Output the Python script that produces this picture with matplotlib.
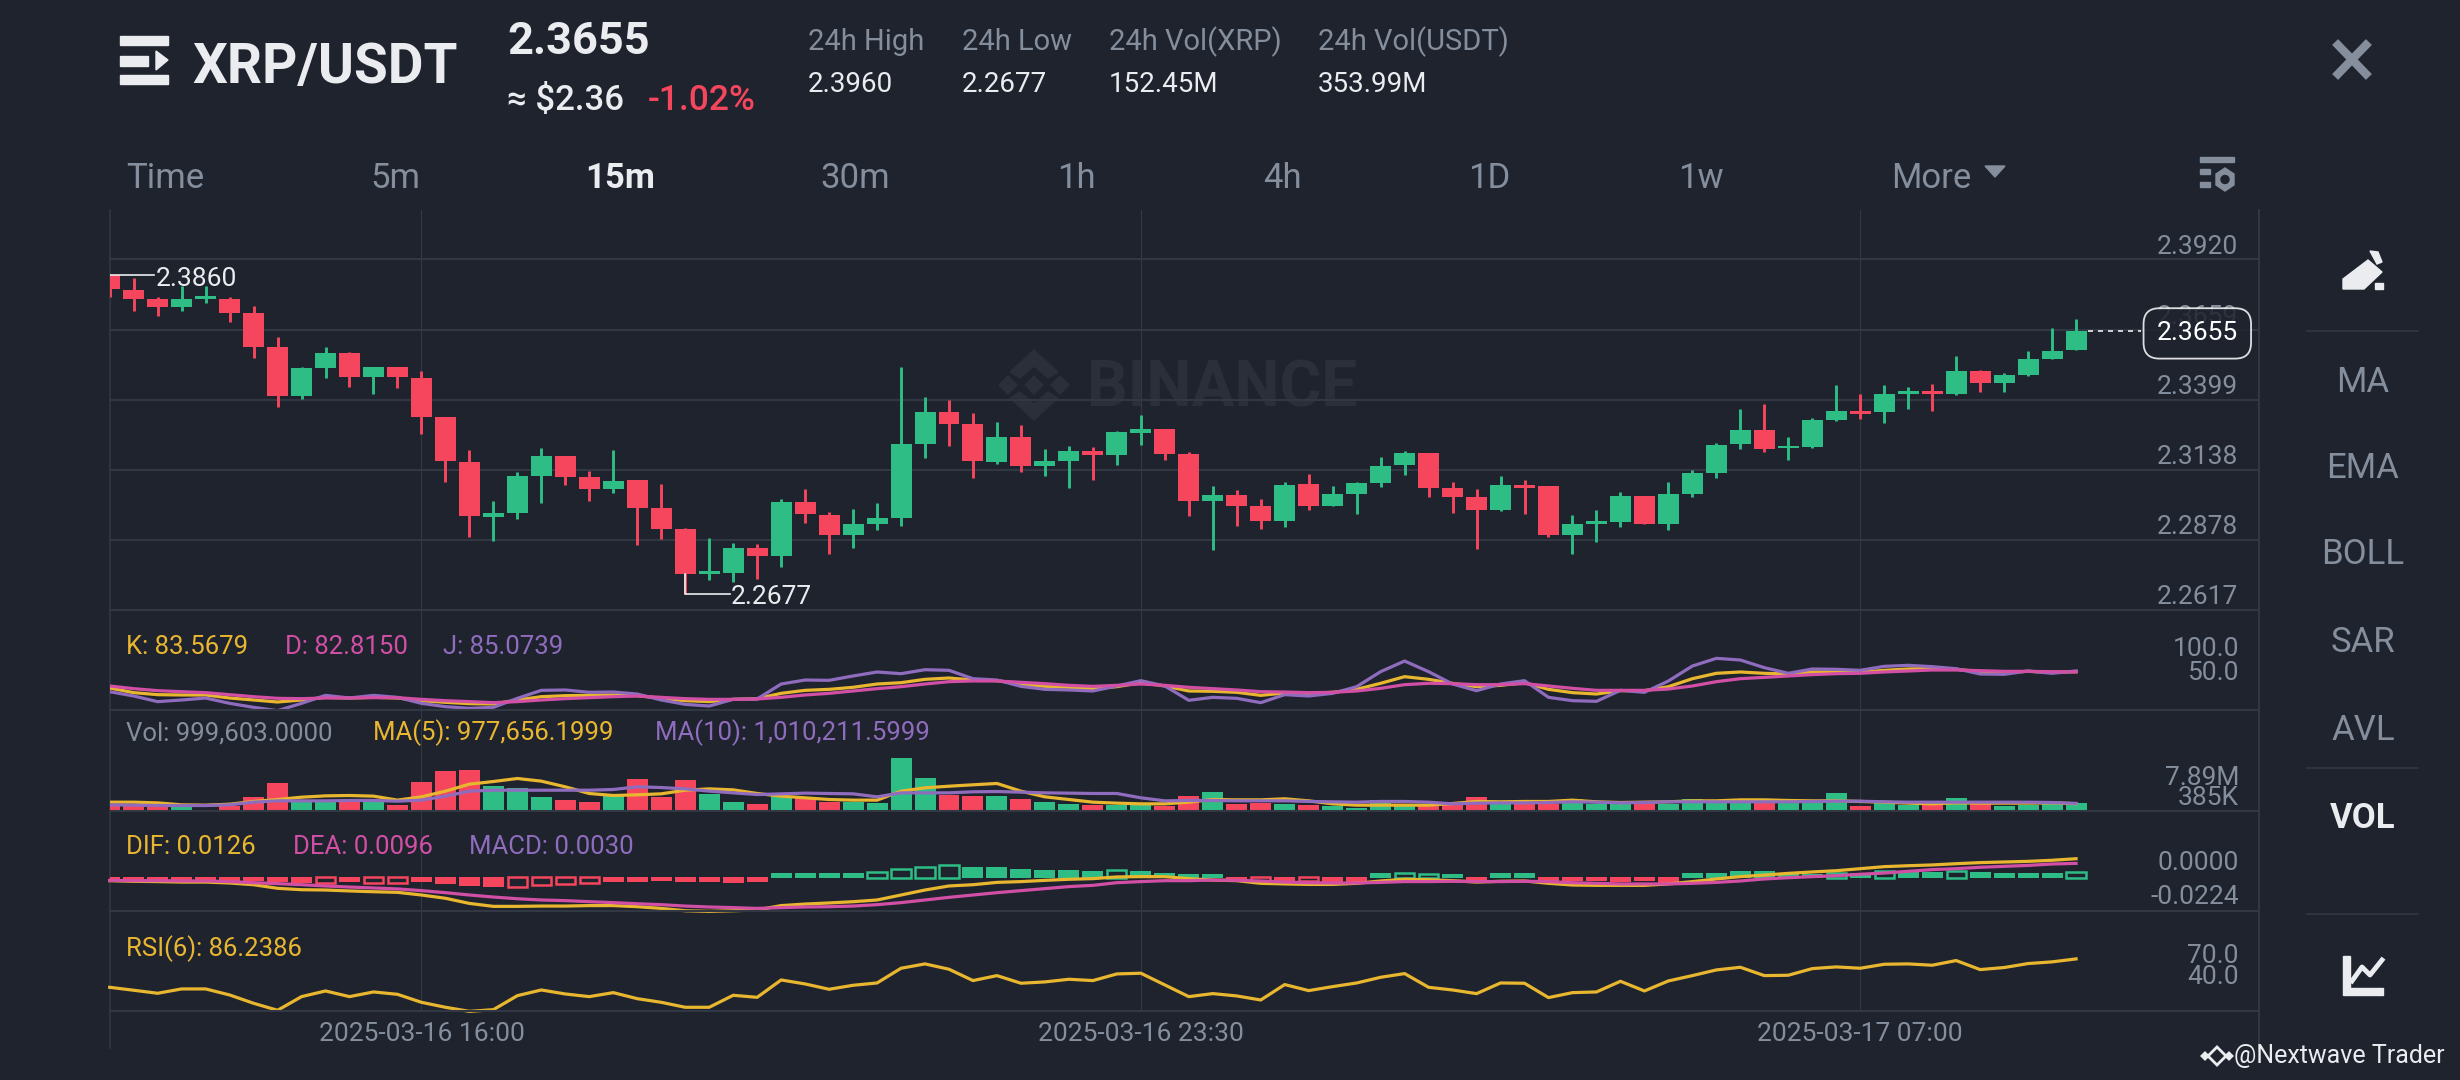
import matplotlib
matplotlib.use('Agg')
import matplotlib.pyplot as plt
from matplotlib.patches import Polygon, Rectangle, Circle
import numpy as np

# candles, one row per 15m bar
opens = [2.3860,2.3807,2.3774,2.3744,2.3772,2.3772,2.3719,2.3593,2.3411,2.3515,2.3572,2.3483,2.3519,2.3480,2.3334,2.3167,2.2963,2.2979,2.3115,2.3188,2.3110,
         2.3065,2.3099,2.2997,2.2917,2.2751,2.2753,2.2847,2.2819,2.3017,2.2971,2.2897,2.2938,2.2959,2.3235,2.3354,2.3308,2.3167,2.3259,2.3153,2.3172,
         2.3209,2.3194,2.3276,2.3288,2.3197,2.3022,2.3044,2.3005,2.2947,2.3084,2.3004,2.3049,2.3088,2.3155,2.3199,2.3070,2.3036,2.2989,2.3080,2.3078,
         2.2897,2.2938,2.2944,2.3041,2.2937,2.3049,2.3126,2.3233,2.3286,2.3218,2.3223,2.3324,2.3358,2.3354,2.3421,2.3430,2.3420,2.3504,2.3462,2.3489,2.3551,2.3582]
highs = [2.3860,2.3850,2.3779,2.3819,2.3819,2.3779,2.3745,2.3633,2.3520,2.3594,2.3575,2.3519,2.3520,2.3505,2.3334,2.3210,2.3023,2.3129,2.3218,2.3188,2.3132,
         2.3212,2.3099,2.3085,2.2922,2.2883,2.2867,2.2862,2.3028,2.3068,2.2980,2.2992,2.3015,2.3520,2.3409,2.3399,2.3348,2.3316,2.3303,2.3214,2.3226,
         2.3224,2.3282,2.3340,2.3288,2.3205,2.3078,2.3062,2.3031,2.3091,2.3124,2.3079,2.3093,2.3184,2.3207,2.3199,2.3091,2.3065,2.3116,2.3099,2.3079,
         2.2970,2.2987,2.3056,2.3042,2.3094,2.3136,2.3236,2.3363,2.3381,2.3260,2.3331,2.3454,2.3418,2.3453,2.3444,2.3458,2.3562,2.3509,2.3499,2.3581,2.3664,2.3700]
lows = [2.3779,2.3729,2.3710,2.3729,2.3759,2.3687,2.3553,2.3373,2.3402,2.3480,2.3446,2.3418,2.3442,2.3272,2.3093,2.2888,2.2873,2.2954,2.3016,2.3082,2.3023,
        2.3053,2.2859,2.2880,2.2677,2.2729,2.2721,2.2731,2.2778,2.2942,2.2825,2.2847,2.2914,2.2929,2.3181,2.3225,2.3106,2.3160,2.3131,2.3115,2.3072,
        2.3100,2.3157,2.3231,2.3173,2.2968,2.2839,2.2929,2.2918,2.2927,2.2989,2.3004,2.2974,2.3075,2.3117,2.3038,2.2976,2.2842,2.2985,2.2975,2.2890,
        2.2825,2.2870,2.2924,2.2937,2.2914,2.3038,2.3108,2.3217,2.3205,2.3174,2.3219,2.3321,2.3328,2.3313,2.3364,2.3358,2.3417,2.3427,2.3427,2.3488,2.3550,2.3582]
closes = [2.3809,2.3774,2.3744,2.3772,2.3783,2.3721,2.3593,2.3411,2.3515,2.3571,2.3483,2.3519,2.3482,2.3334,2.3170,2.2965,2.2979,2.3115,2.3188,2.3110,2.3065,
          2.3098,2.2997,2.2917,2.2752,2.2762,2.2847,2.2819,2.3018,2.2973,2.2896,2.2938,2.2959,2.3234,2.3353,2.3309,2.3170,2.3259,2.3152,2.3170,2.3207,
          2.3193,2.3277,2.3288,2.3197,2.3021,2.3044,2.3004,2.2947,2.3083,2.3004,2.3047,2.3089,2.3153,2.3199,2.3070,2.3038,2.2989,2.3082,2.3070,2.2897,
          2.2935,2.2947,2.3041,2.2937,2.3048,2.3126,2.3231,2.3287,2.3215,2.3226,2.3324,2.3358,2.3347,2.3420,2.3431,2.3418,2.3504,2.3462,2.3489,2.3550,2.3581,2.3655]

price_ticks = [2.3920, 2.3659, 2.3399, 2.3138, 2.2878, 2.2617]
time_idx = [13, 43, 73]
time_labels = ['2025-03-16 16:00', '2025-03-16 23:30', '2025-03-17 07:00']

kdj_k = [47.9,37.8,33.4,32.7,32.7,26.1,21.8,17.4,21.8,27.6,26.1,27.6,26.1,20.3,16.7,13.8,13.1,21.8,29.0,31.2,31.9,32.7,31.2,25.4,20.3,18.2,23.2,24.7,36.3,42.8,45.0,49.4,56.6,59.5,66.8,69.7,65.3,63.9,56.6,51.5,49.4,46.5,
         50.8,59.5,52.3,41.4,40.7,38.5,31.9,37.0,36.3,38.5,45.0,58.1,72.6,66.8,58.1,50.8,53.7,59.5,45.0,37.8,34.8,42.1,42.1,50.8,68.2,79.9,82.8,79.9,78.4,82.8,82.8,82.0,86.4,89.3,90.8,88.6,83.5,82.0,84.2,82.0,83.57]
kdj_d = [52.3,46.5,42.1,39.9,37.8,33.4,29.0,25.4,24.7,26.1,26.1,26.9,26.9,23.2,20.3,18.2,16.0,18.2,21.8,24.7,26.9,29.0,30.5,27.6,24.7,23.2,23.2,24.0,27.6,32.7,36.3,41.4,46.5,50.8,56.6,61.7,63.2,63.2,60.3,57.4,53.7,51.5,
         53.7,56.6,53.7,49.4,46.5,43.6,39.9,39.2,37.8,38.5,41.4,47.2,55.2,58.1,57.4,55.2,55.2,57.4,52.3,47.2,42.8,42.8,42.8,45.7,52.3,61.7,68.2,71.1,74.1,77.0,79.1,79.9,82.8,84.9,87.1,87.1,85.7,84.2,84.2,83.5,82.82]
kdj_j = [39.9,30.5,18.2,21.8,26.1,14.5,5.8,-1.5,14.5,31.9,26.1,31.9,27.6,14.5,7.3,3.6,5.8,25.4,42.8,43.6,38.5,39.2,34.8,21.8,12.3,8.7,23.2,24.0,56.6,65.3,64.6,74.1,82.8,79.1,87.8,86.4,68.2,65.3,51.5,45.0,43.6,41.4,
         52.3,63.9,52.3,21.1,27.6,25.4,16.0,33.4,30.5,36.3,50.8,83.5,106.7,83.5,56.6,42.1,56.6,63.9,27.6,20.3,18.9,42.8,38.5,63.2,95.8,112.5,108.9,92.2,79.9,89.3,88.6,86.4,95.1,97.3,94.4,90.0,78.4,77.7,84.9,79.9,85.07]

# volume in millions
vol = [.62,.62,.62,.52,.14,.62,1.86,3.90,1.19,1.19,1.19,1.33,.81,4.14,5.57,5.81,3.43,3.28,1.86,1.43,1.24,2.05,4.52,1.90,4.38,2.38,1.19,.86,2.05,1.95,1.19,1.19,1.09,7.52,4.57,2.28,2.14,2.14,1.71,1.24,.86,.76,
       .76,.76,.67,2.14,2.62,.95,1.09,.95,.76,.62,.38,1.57,.95,.71,.86,1.95,.86,.86,.95,1.67,.95,.95,.95,.95,1.67,1.00,1.00,1.00,1.00,1.00,2.43,.62,1.00,.81,1.00,1.81,1.00,.62,.76,.95,1.00]
vol_ma5 = [1.19,1.19,1.09,.81,.76,.90,1.29,1.57,1.90,2.09,2.14,2.05,1.48,1.95,2.76,3.76,4.14,4.57,4.19,3.38,2.43,2.14,2.24,2.38,2.90,3.09,2.95,2.43,2.05,1.81,1.57,1.48,1.48,2.76,3.24,3.47,3.67,3.86,2.76,1.95,1.57,1.19,
           1.05,.95,.95,1.19,1.57,1.52,1.52,1.67,1.38,.95,.76,.76,.76,.76,1.00,1.29,1.24,1.29,1.29,1.48,1.24,1.14,1.19,1.24,1.38,1.38,1.52,1.52,1.43,1.38,1.38,1.29,1.19,1.05,.95,1.09,1.05,1.05,1.05,1.09,.98]
vol_ma10 = [.81,.76,.71,.71,.71,.81,1.19,1.38,1.38,1.38,1.43,1.43,1.33,1.48,2.05,2.76,2.90,2.90,2.90,2.90,2.90,3.00,3.38,3.28,3.09,2.76,2.52,2.28,2.38,2.48,2.43,2.38,1.95,2.52,2.52,2.52,2.67,2.71,2.62,2.52,2.48,2.43,
            2.43,1.81,1.38,1.43,1.43,1.38,1.38,1.38,1.29,1.24,1.19,1.29,1.29,1.19,.95,1.05,1.09,1.09,1.14,1.24,1.19,1.09,1.14,1.24,1.24,1.24,1.24,1.24,1.24,1.29,1.33,1.33,1.24,1.19,1.19,1.19,1.19,1.19,1.19,1.14,1.01]

macd_hist = [-.0021,-.0019,-.0021,-.0028,-.0028,-.0017,-.0017,-.0024,-.0028,-.0032,-.0024,-.0028,-.0028,-.0021,-.0034,-.0051,-.0058,-.0056,-.0041,-.0034,-.0030,-.0026,-.0026,-.0015,-.0024,-.0024,-.0028,-.0026,
             .0036,.0036,.0036,.0036,.0041,.0062,.0075,.0086,.0071,.0071,.0062,.0056,.0051,.0047,.0054,.0047,.0036,.0028,.0028,-.0011,-.0015,-.0028,-.0019,-.0028,-.0028,.0036,.0036,.0028,.0028,-.0026,.0036,.0036,
             -.0015,-.0015,-.0015,-.0026,-.0019,-.0028,.0036,.0036,.0047,.0047,.0032,.0028,.0032,.0036,.0047,.0041,.0043,.0047,.0039,.0036,.0036,.0036,.0043]
macd_hollow = [9, 11, 12, 17, 18, 19, 20, 32, 33, 34, 35, 42, 48, 50, 54, 55, 72, 74, 77, 82]
macd_dif = [-.0015,-.0019,-.0021,-.0024,-.0024,-.0030,-.0041,-.0064,-.0073,-.0075,-.0081,-.0086,-.0090,-.0107,-.0128,-.0161,-.0180,-.0180,-.0178,-.0178,-.0175,-.0175,-.0182,-.0193,-.0208,-.0212,-.0208,-.0203,-.0175,-.0165,-.0158,-.0150,-.0139,-.0107,-.0075,-.0049,-.0041,-.0026,-.0021,-.0013,-.0006,-.0002,
            .0009,.0011,.0011,-.0002,-.0011,-.0015,-.0032,-.0036,-.0039,-.0039,-.0032,-.0017,-.0006,-.0009,-.0015,-.0024,-.0019,-.0017,-.0032,-.0043,-.0045,-.0045,-.0045,-.0036,-.0021,-.0004,.0011,.0021,.0032,.0041,.0049,.0062,.0075,.0081,.0086,.0094,.0101,.0105,.0109,.0116,.0126]
macd_dea = [-.0013,-.0015,-.0015,-.0017,-.0017,-.0021,-.0028,-.0034,-.0041,-.0049,-.0056,-.0062,-.0068,-.0079,-.0092,-.0107,-.0120,-.0131,-.0139,-.0143,-.0150,-.0156,-.0163,-.0169,-.0178,-.0184,-.0188,-.0193,-.0188,-.0184,-.0182,-.0178,-.0169,-.0156,-.0139,-.0122,-.0107,-.0092,-.0079,-.0066,-.0053,-.0045,
            -.0028,-.0021,-.0015,-.0015,-.0011,-.0013,-.0017,-.0024,-.0028,-.0030,-.0030,-.0026,-.0021,-.0021,-.0019,-.0021,-.0021,-.0019,-.0021,-.0028,-.0032,-.0036,-.0036,-.0036,-.0032,-.0026,-.0017,-.0004,.0004,.0011,.0017,.0026,.0034,.0045,.0056,.0062,.0071,.0077,.0083,.0092,.0096]

rsi6 = [45.7,41.5,37.2,43.4,43.4,34.8,22.9,12.9,32.4,40.5,32.4,39.1,35.7,24.3,17.2,11.4,13.8,33.8,41.9,36.2,32.4,38.1,29.5,24.3,17.2,17.2,34.3,31.4,56.2,50.5,42.9,48.6,51.9,72.9,79.1,71.5,55.3,62.4,51.5,53.4,57.2,55.3,
        64.8,65.8,49.1,32.4,36.7,33.4,27.6,49.6,41.0,46.7,51.9,60.0,65.3,45.7,41.9,36.7,51.9,51.5,31.0,38.1,39.1,54.3,40.5,54.8,62.4,70.5,74.3,62.4,62.9,72.4,74.8,72.9,78.6,79.1,77.2,83.9,71.0,73.9,79.6,82.0,86.24]

bg = '#1e232e'
grid_c = '#323843'
green = '#2ebd85'
red = '#f6465d'
yellow = '#e9b62f'
pink = '#d24fa6'
purple = '#8f6cbd'
grey = '#848e9c'
white = '#eaecef'
W, H = 2460, 1080
left_px, right_px = 109.7, 2258.7
step_px = 23.98
macd_red_top = .0011

plt.rcParams['font.family'] = ['Roboto', 'DejaVu Sans']
fig = plt.figure(figsize=(W / 100, H / 100), dpi=100, facecolor=bg)


def panel(top, bottom):
    ax = fig.add_axes([left_px / W, 1 - bottom / H, (right_px - left_px) / W, (bottom - top) / H], facecolor='none', zorder=2)
    ax.set_xlim(0, (right_px - left_px) / step_px)
    for s in ['top', 'left', 'right']:
        ax.spines[s].set_visible(False)
    ax.spines['bottom'].set_color(grid_c)
    ax.spines['bottom'].set_linewidth(1.5)
    ax.set_xticks(time_idx)
    ax.set_yticks([])
    ax.tick_params(length=0, labelbottom=False, labelleft=False)
    ax.grid(axis='x', color=grid_c, lw=0.8)
    ax.set_axisbelow(True)
    return ax


# ui layers, pixel coordinates
ui = fig.add_axes([0, 0, 1, 1], facecolor='none', zorder=1)
ui.set_xlim(0, W)
ui.set_ylim(H, 0)
ui.axis('off')
top = fig.add_axes([0, 0, 1, 1], facecolor='none', zorder=3)
top.set_xlim(0, W)
top.set_ylim(H, 0)
top.axis('off')


def txt(x, y, s, size, color=grey, ha='left', weight='normal', ax=top):
    # roboto sits a little high with va center
    ax.text(x, y + 4, s, fontsize=size, color=color, ha=ha, va='center', fontweight=weight)


x = np.arange(len(closes))
up = [c >= o for o, c in zip(opens, closes)]
cols = [green if u else red for u in up]

# main candles
ax = panel(210, 610)
ax.set_ylim(2.2617, 2.41032)
ax.set_yticks(price_ticks)
ax.grid(axis='y', color=grid_c, lw=1.5)
ax.vlines(x, lows, highs, colors=cols, lw=2.1)
body_low = [min(o, c) for o, c in zip(opens, closes)]
body_h = [max(abs(c - o), 0.0004) for o, c in zip(opens, closes)]
ax.bar(x, body_h, bottom=body_low, width=0.875, color=cols)
for p in price_ticks:
    ax.annotate(f'{p:.4f}', xy=(1, p), xycoords=('axes fraction', 'data'), xytext=(-15, 0.5), textcoords='offset points',
                ha='right', va='bottom', fontsize=19, color=grey)
# max and min markers
ax.plot([0, 1.85], [2.3860, 2.3860], color=white, lw=1.2)
ax.annotate('2.3860', xy=(1.92, 2.3860), xytext=(0, -2.5), textcoords='offset points', color=white, fontsize=19, va='center')
ax.plot([24, 24, 25.85], [2.2752, 2.2677, 2.2677], color=white, lw=1.2)
ax.annotate('2.2677', xy=(25.9, 2.2677), xytext=(0, -2.5), textcoords='offset points', color=white, fontsize=19, va='center')
# last price
ax.plot([82.5, 84.7], [closes[-1], closes[-1]], color=white, lw=1.2, ls=(0, (3, 3)))
ax.annotate('2.3655', xy=(1, closes[-1]), xycoords=('axes fraction', 'data'), xytext=(-15, -2), textcoords='offset points',
            ha='right', va='center', fontsize=19, color='white',
            bbox=dict(boxstyle='round,pad=0.5,rounding_size=0.6', fc=bg, ec='white', lw=1.3, alpha=0.85))

# KDJ
ax = panel(610, 710)
ax.set_ylim(0, 217.8)
ax.plot(x, kdj_k, color=yellow, lw=2.3)
ax.plot(x, kdj_j, color=purple, lw=2.3)
ax.plot(x, kdj_d, color=pink, lw=2.3)

# volume
ax = panel(710, 810.5)
ax.set_ylim(0, 14.35)
ax.bar(x, vol, width=0.875, color=cols)
ax.plot(x, vol_ma5, color=yellow, lw=2.3)
ax.plot(x, vol_ma10, color=purple, lw=2.3)

# MACD, the red bars reach a little over the zero line in the app
ax = panel(810.5, 910.5)
ax.set_ylim(-.02065, .04355)
for i, v in enumerate(macd_hist):
    c = green if v >= 0 else red
    base = 0 if v >= 0 else macd_red_top
    if i in macd_hollow:
        ax.bar(i, v - base, bottom=base, width=0.8, facecolor='none', edgecolor=c, lw=1.8)
    else:
        ax.bar(i, v - base, bottom=base, width=0.875, color=c)
ax.plot(x, macd_dif, color=yellow, lw=2.3, clip_on=False)
ax.plot(x, macd_dea, color=pink, lw=2.3, clip_on=False)

# RSI
ax = panel(910.5, 1011)
ax.set_ylim(11.9, 155.3)
ax.plot(x, rsi6, color=yellow, lw=2.3, clip_on=False)

# date strip
ax = panel(1011, 1050)
ax.spines['bottom'].set_visible(False)
ax.grid(False)
ax.set_yticks([])
ax.set_xticks(time_idx, time_labels)
ax.tick_params(labelbottom=True, labelsize=19, labelcolor=grey, pad=-20)

# watermark under the candles
wm = '#2a2f3a'
ui.text(1087, 389, 'BINANCE', fontsize=46, color=wm, fontweight='bold', va='center')
for cx, cy, r in [(1034, 385, 9), (1008, 385, 9), (1060, 385, 9)]:
    ui.add_patch(Polygon([(cx - r, cy), (cx, cy - r), (cx + r, cy), (cx, cy + r)], color=wm))
ui.add_patch(Polygon([(1034, 350), (1058, 372), (1048, 378), (1034, 366), (1020, 378), (1010, 372)], color=wm))
ui.add_patch(Polygon([(1034, 420), (1058, 398), (1048, 392), (1034, 404), (1020, 392), (1010, 398)], color=wm))

# frame verticals
ui.plot([left_px, left_px], [210, 1048], color=grid_c, lw=1.2)
ui.plot([right_px, right_px], [210, 1050], color=grid_c, lw=1.5)

# header
top.add_patch(Rectangle((120, 36), 48, 9, color=white))
top.add_patch(Rectangle((120, 56), 28, 10, color=white))
top.add_patch(Polygon([(156, 51), (168, 60), (156, 70)], color=white))
top.add_patch(Rectangle((120, 75), 48, 9, color=white))
txt(192, 64, 'XRP/USDT', 39.5, white, weight='bold')
txt(507, 38, '2.3655', 32.5, white, weight='bold')
txt(507, 97, '≈ $2.36', 25, white, weight='medium')
txt(648, 97, '-1.02%', 25.5, red, weight='medium')
stat_x = [808, 962, 1109, 1318]
stat_names = ['24h High', '24h Low', '24h Vol(XRP)', '24h Vol(USDT)']
stat_vals = ['2.3960', '2.2677', '152.45M', '353.99M']
for sx, n, v in zip(stat_x, stat_names, stat_vals):
    txt(sx, 38, n, 21, grey)
    txt(sx, 81, v, 20, white)

# interval tabs
tab_x = [165, 395, 620, 855, 1076, 1282, 1489, 1701]
tab_names = ['Time', '5m', '15m', '30m', '1h', '4h', '1D', '1w']
for tx, n in zip(tab_x, tab_names):
    if n == '15m':
        txt(tx, 175, n, 25, white, ha='center', weight='bold')
    else:
        txt(tx, 175, n, 25, grey, ha='center')
txt(1891, 175, 'More', 25, grey)
top.add_patch(Polygon([(1985, 166), (2005, 166), (1995, 177)], color=grey))

# close cross
top.plot([2338, 2366], [45, 74], color=grey, lw=6)
top.plot([2338, 2366], [74, 45], color=grey, lw=6)

# settings icon
top.add_patch(Rectangle((2200, 157), 34, 5, color=grey))
top.add_patch(Rectangle((2200, 169), 10, 5, color=grey))
top.add_patch(Rectangle((2200, 182), 10, 5, color=grey))
top.add_patch(Polygon([(2216, 174), (2225, 168), (2234, 174), (2234, 185), (2225, 191), (2216, 185)], color=grey))
top.add_patch(Circle((2225, 179.5), 4, color=bg))

# legends
txt(125.5, 643, 'K: 83.5679', 18.5, yellow)
txt(285, 643, 'D: 82.8150', 18.5, pink)
txt(443, 643, 'J: 85.0739', 18.5, purple)
txt(125.5, 729, 'Vol: 999,603.0000', 18.5, grey)
txt(373, 729, 'MA(5): 977,656.1999', 18.5, yellow)
txt(655, 729, 'MA(10): 1,010,211.5999', 18.5, purple)
txt(125.5, 843, 'DIF: 0.0126', 18.5, yellow)
txt(292.6, 843, 'DEA: 0.0096', 18.5, pink)
txt(468.6, 843, 'MACD: 0.0030', 18.5, purple)
txt(125.5, 945, 'RSI(6): 86.2386', 18.5, yellow)

# sub panel scale labels, tight pairs in the reference sit almost on each other
scale_y = [645, 669, 774, 794, 859, 893, 952, 973]
scale_names = ['100.0', '50.0', '7.89M', '385K', '0.0000', '-0.0224', '70.0', '40.0']
for sy, n in zip(scale_y, scale_names):
    txt(2239, sy, n, 19, grey, ha='right')

# right menu
menu_y = [379, 465, 551, 639, 727]
menu_names = ['MA', 'EMA', 'BOLL', 'SAR', 'AVL']
for my, n in zip(menu_y, menu_names):
    txt(2363, my, n, 25, grey, ha='center')
txt(2363, 815, 'VOL', 25, white, ha='center', weight='bold')
for sy in [330.5, 768, 914]:
    top.plot([2307, 2418], [sy, sy], color=grid_c, lw=1.2)

# pencil icon
top.add_patch(Polygon([(2343, 289), (2343, 279), (2368, 260), (2382, 272), (2364, 289)], color=white))
top.add_patch(Polygon([(2370, 251), (2378, 252), (2382, 262), (2377, 264)], color=white))
top.add_patch(Rectangle((2375, 283), 8, 6, color=white))

# chart icon
top.add_patch(Polygon([(2343, 956), (2350, 956), (2350, 988), (2383, 988), (2383, 995), (2343, 995)], color=white))
top.plot([2352, 2362, 2370, 2382], [981, 967, 975, 960], color=white, lw=3.5)

# author mark
txt(2234, 1052, '@Nextwave Trader', 18, white)
for cx, r in [(2217, 9), (2205, 3), (2229, 3)]:
    top.add_patch(Polygon([(cx - r, 1056), (cx, 1056 - r), (cx + r, 1056), (cx, 1056 + r)], fill=False if r > 3 else True, edgecolor=white, facecolor=white, lw=2))

fig.savefig('out.png', dpi=100, facecolor=bg)
